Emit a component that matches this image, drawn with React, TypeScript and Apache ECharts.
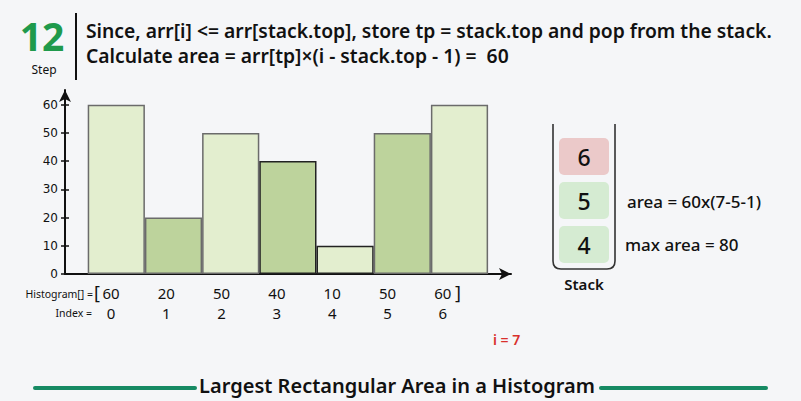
import React, { useEffect, useRef } from "react";
import * as echarts from "echarts";

const heights = [60, 20, 50, 40, 10, 50, 60];
const indices = [0, 1, 2, 3, 4, 5, 6];
const darkBars = [1, 3, 5];
const yTicks = [0, 10, 20, 30, 40, 50, 60];
const stackItems = ["6", "5", "4"];
const stackColors = ["#ebc9c9", "#d5ebd2", "#d5ebd2"];
const titleLine1 = "Since, arr[i] <= arr[stack.top], store tp = stack.top and pop from the stack.";
const titleLine2 = "Calculate area = arr[tp]\u00d7(i - stack.top - 1) =  60";
const areaText = "area = 60x(7-5-1)";
const maxAreaText = "max area = 80";
const iText = "i = 7";
const stepNumber = "12";
const bottomTitle = "Largest Rectangular Area in a Histogram";

const cupPath = "M553 124 L553 261 Q553 269 561 269 L607 269 Q615 269 615 261 L615 124";
echarts.graphic.registerShape("stackCup", echarts.graphic.extendPath(cupPath, {}));

export default function App() {
  const ref = useRef<HTMLDivElement>(null);
  useEffect(() => {
    document.body.style.margin = "0";
    const chart = echarts.init(ref.current!, null, { renderer: "svg" });
    const barW = 57.2;
    const gridLeft = 65;
    const gridRight = 511;
    const firstBarLeft = 87.7;
    const xMin = -0.5 - (firstBarLeft - gridLeft) / barW;
    const xMax = xMin + (gridRight - gridLeft) / barW;
    const font = "'Noto Sans', sans-serif";
    const labelX = (i: number) => 111 + i * 55.3;

    const graphics: any[] = [];
    // Step header
    graphics.push({
      type: "text", x: 42, y: 35,
      style: { text: stepNumber, font: `bold 39px ${font}`, lineHeight: 30, fill: "#1f9a4c", align: "center", verticalAlign: "middle", letterSpacing: -2 },
    });
    graphics.push({
      type: "text", x: 44, y: 69,
      style: { text: "Step", font: `12px ${font}`, lineHeight: 12, fill: "#111", align: "center", verticalAlign: "middle" },
    });
    graphics.push({
      type: "line", shape: { x1: 76, y1: 13, x2: 76, y2: 80 },
      style: { stroke: "#111", lineWidth: 2 },
    });
    graphics.push({
      type: "text", x: 86, y: 30,
      style: { text: titleLine1, font: `600 19.3px ${font}`, fill: "#111", verticalAlign: "middle" },
    });
    graphics.push({
      type: "text", x: 86, y: 55,
      style: { text: titleLine2, font: `600 19.3px ${font}`, fill: "#111", verticalAlign: "middle" },
    });
    // Histogram labels
    graphics.push({
      type: "text", x: 93, y: 294,
      style: { text: "Histogram[] =", font: `10.5px ${font}`, fill: "#111", align: "right", verticalAlign: "middle" },
    });
    graphics.push({
      type: "text", x: 97, y: 292,
      style: { text: "[", font: `18px ${font}`, fill: "#111", align: "center", verticalAlign: "middle" },
    });
    graphics.push({
      type: "text", x: 458, y: 292,
      style: { text: "]", font: `18px ${font}`, fill: "#111", align: "center", verticalAlign: "middle" },
    });
    graphics.push({
      type: "text", x: 92, y: 313,
      style: { text: "Index =", font: `10.5px ${font}`, fill: "#111", align: "right", verticalAlign: "middle" },
    });
    heights.forEach((h, i) => {
      graphics.push({
        type: "text", x: labelX(i), y: 293,
        style: { text: String(h), font: `15px ${font}`, fill: "#111", align: "center", verticalAlign: "middle" },
      });
    });
    indices.forEach((v, i) => {
      graphics.push({
        type: "text", x: labelX(i), y: 313,
        style: { text: String(v), font: `15px ${font}`, fill: "#111", align: "center", verticalAlign: "middle" },
      });
    });
    graphics.push({
      type: "text", x: 493, y: 339,
      style: { text: iText, font: `600 14px ${font}`, fill: "#d9302c", verticalAlign: "middle" },
    });
    // Stack
    graphics.push({
      type: "stackCup", x: 0, y: 0,
      style: { fill: "none", stroke: "#333", lineWidth: 1.6 },
    });
    stackItems.forEach((s, i) => {
      const top = 138 + i * 44;
      graphics.push({
        type: "rect", shape: { x: 559, y: top, width: 50, height: 37, r: 5 },
        style: { fill: stackColors[i] },
      });
      graphics.push({
        type: "text", x: 584, y: top + 19,
        style: { text: s, font: `500 23px ${font}`, fill: "#111", align: "center", verticalAlign: "middle" },
      });
    });
    graphics.push({
      type: "text", x: 584, y: 284,
      style: { text: "Stack", font: `600 15px ${font}`, fill: "#111", align: "center", verticalAlign: "middle" },
    });
    graphics.push({
      type: "text", x: 627, y: 201,
      style: { text: areaText, font: `500 17px ${font}`, fill: "#111", verticalAlign: "middle", letterSpacing: 0.8 },
    });
    graphics.push({
      type: "text", x: 625, y: 244,
      style: { text: maxAreaText, font: `500 17px ${font}`, fill: "#111", verticalAlign: "middle", letterSpacing: 0.5 },
    });
    // Bottom title
    graphics.push({
      type: "line", shape: { x1: 35, y1: 388, x2: 195, y2: 388 },
      style: { stroke: "#168a63", lineWidth: 4, lineCap: "round" },
    });
    graphics.push({
      type: "line", shape: { x1: 601, y1: 388, x2: 766, y2: 388 },
      style: { stroke: "#168a63", lineWidth: 4, lineCap: "round" },
    });
    graphics.push({
      type: "text", x: 397, y: 385,
      style: { text: bottomTitle, font: `600 20px ${font}`, fill: "#111", align: "center", verticalAlign: "middle" },
    });

    chart.setOption({
      animation: false,
      backgroundColor: "#f5f6f8",
      grid: { left: gridLeft, right: 801 - gridRight, top: 90, bottom: 401 - 274 },
      xAxis: {
        type: "value", min: xMin, max: xMax,
        axisLine: { show: true, onZero: false, symbol: ["none", "arrow"], symbolSize: [9, 12], lineStyle: { color: "#111", width: 2 } },
        axisTick: { show: false }, axisLabel: { show: false }, splitLine: { show: false },
      },
      yAxis: [
        {
          type: "value", min: 0, max: 65.2,
          axisLine: { show: true, onZero: false, symbol: ["none", "arrow"], symbolSize: [9, 12], lineStyle: { color: "#111", width: 2 } },
          axisTick: { show: true, length: 4, customValues: yTicks, lineStyle: { color: "#111", width: 1.5 } },
          axisLabel: { customValues: yTicks, fontSize: 12, color: "#111", fontFamily: "DejaVu Sans", margin: 7 },
          splitLine: { show: false },
        },
        {
          type: "value", min: 0, max: 65.2, position: "left",
          axisLine: { show: false, onZero: false },
          axisTick: { show: true, inside: true, length: 4, customValues: yTicks, lineStyle: { color: "#111", width: 1.5 } },
          axisLabel: { show: false },
          splitLine: { show: false },
        },
      ],
      series: [
        {
          type: "bar", barWidth: barW, z: 1,
          data: heights.map((h, i) => ({
            value: [i, h],
            itemStyle: {
              color: darkBars.includes(i) ? "#bdd39c" : "#e3eecf",
              borderColor: i === 3 || i === 4 ? "#222" : "#6b6b6b",
              borderWidth: 1.5,
            },
          })),
        },
      ],
      graphic: graphics,
    });
    return () => chart.dispose();
  }, []);
  return <div ref={ref} style={{ width: 801, height: 401 }} />;
}
